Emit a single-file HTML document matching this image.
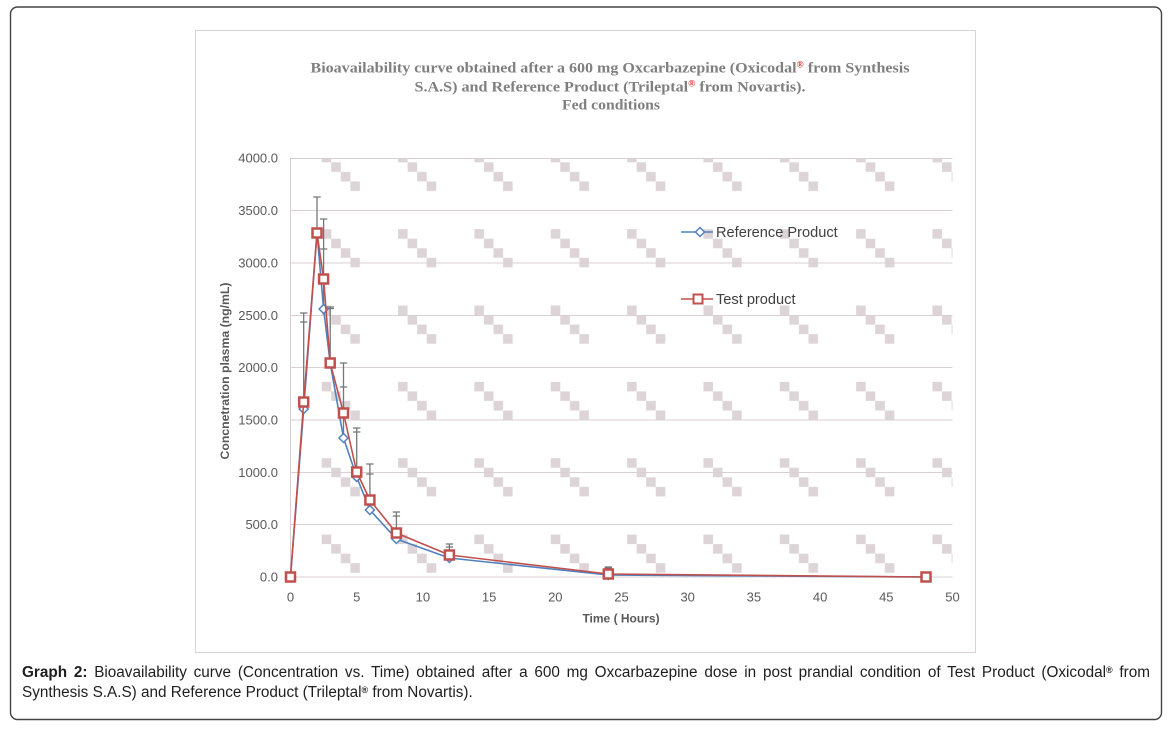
<!DOCTYPE html>
<html><head><meta charset="utf-8"><style>
html,body{margin:0;padding:0;background:#fff;}
body{width:1172px;height:730px;position:relative;overflow:hidden;}
svg{position:absolute;left:0;top:0;}
.cap{position:absolute;left:22px;width:1128px;font-family:"Liberation Sans",Arial,sans-serif;font-size:15.3px;line-height:20px;color:#1e1e1e;white-space:nowrap;}
.l1{top:662.5px;text-align:justify;text-align-last:justify;}
.l2{top:682.5px;}
sup{font-size:9px;font-weight:bold;vertical-align:top;position:relative;top:-3px;}
</style></head><body>
<svg width="1172" height="730" viewBox="0 0 1172 730" xmlns="http://www.w3.org/2000/svg">
<defs>
<pattern id="pt" patternUnits="userSpaceOnUse" x="321.7" y="152.8" width="76.35" height="76.35">
<rect x="0" y="0" width="9.55" height="9.55" fill="#ddd4d7"/>
<rect x="9.55" y="9.55" width="9.55" height="9.55" fill="#ddd4d7"/>
<rect x="19.1" y="19.1" width="9.55" height="9.55" fill="#ddd4d7"/>
<rect x="28.65" y="28.65" width="9.55" height="9.55" fill="#ddd4d7"/>
</pattern>
</defs>
<rect x="10.5" y="7" width="1151" height="712.5" rx="7" fill="none" stroke="#444" stroke-width="1.4"/>
<rect x="195.5" y="30.5" width="780" height="622" fill="#fff" stroke="#dad3d6" stroke-width="1"/>
<!-- title -->
<g font-family="'Liberation Serif','Times New Roman',serif" font-weight="bold" font-size="15" fill="#7f7f7f" text-anchor="middle">
<text x="610" y="72.5" textLength="599" lengthAdjust="spacingAndGlyphs">Bioavailability curve obtained after a 600 mg Oxcarbazepine (Oxicodal<tspan fill="#e03030" font-size="9" dy="-5">®</tspan><tspan dy="5"> from Synthesis</tspan></text>
<text x="610" y="91.5" textLength="391" lengthAdjust="spacingAndGlyphs">S.A.S) and Reference Product (Trileptal<tspan fill="#e03030" font-size="9" dy="-5">®</tspan><tspan dy="5"> from Novartis).</tspan></text>
<text x="611" y="109.5" textLength="98" lengthAdjust="spacingAndGlyphs">Fed conditions</text>
</g>
<!-- pattern -->
<rect x="290.5" y="158" width="662" height="419" fill="url(#pt)"/>
<!-- gridlines -->
<g stroke="#dad0d4" stroke-width="1">
<line x1="290" y1="158.5" x2="952.5" y2="158.5"/>
<line x1="290" y1="210.5" x2="952.5" y2="210.5"/>
<line x1="290" y1="263" x2="952.5" y2="263"/>
<line x1="290" y1="315.5" x2="952.5" y2="315.5"/>
<line x1="290" y1="367.5" x2="952.5" y2="367.5"/>
<line x1="290" y1="420" x2="952.5" y2="420"/>
<line x1="290" y1="472.5" x2="952.5" y2="472.5"/>
<line x1="290" y1="524.5" x2="952.5" y2="524.5"/>
<line x1="290" y1="577" x2="952.5" y2="577"/>
<line x1="290.5" y1="158" x2="290.5" y2="577"/>
</g>
<!-- y labels -->
<g font-family="'Liberation Sans',Arial,sans-serif" font-size="13" fill="#595959" text-anchor="end">
<text x="278" y="162.5">4000.0</text>
<text x="278" y="215">3500.0</text>
<text x="278" y="267.5">3000.0</text>
<text x="278" y="320">2500.0</text>
<text x="278" y="372">2000.0</text>
<text x="278" y="424.5">1500.0</text>
<text x="278" y="477">1000.0</text>
<text x="278" y="529">500.0</text>
<text x="278" y="581.5">0.0</text>
</g>
<!-- x labels -->
<g font-family="'Liberation Sans',Arial,sans-serif" font-size="13" fill="#595959" text-anchor="middle">
<text x="290.5" y="601.5">0</text>
<text x="356.7" y="601.5">5</text>
<text x="422.9" y="601.5">10</text>
<text x="489.1" y="601.5">15</text>
<text x="555.3" y="601.5">20</text>
<text x="621.5" y="601.5">25</text>
<text x="687.7" y="601.5">30</text>
<text x="753.9" y="601.5">35</text>
<text x="820.1" y="601.5">40</text>
<text x="886.3" y="601.5">45</text>
<text x="952.5" y="601.5">50</text>
</g>
<text x="621" y="622.5" font-family="'Liberation Sans',Arial,sans-serif" font-size="12" font-weight="bold" fill="#595959" text-anchor="middle">Time ( Hours)</text>
<text transform="translate(229,371) rotate(-90)" x="0" y="0" font-family="'Liberation Sans',Arial,sans-serif" font-size="12" font-weight="bold" fill="#595959" text-anchor="middle" textLength="177" lengthAdjust="spacingAndGlyphs">Concnetration plasma (ng/mL)</text>
<!-- error bars -->
<g stroke="#737878" stroke-width="1.3" fill="none">
<path d="M303.7 402 V313 M300 313 H307.4 M303.7 409 V322 M300 322 H307.4"/>
<path d="M317 233 V197 M313.3 197 H320.7"/>
<path d="M323.6 279 V219 M319.9 219 H327.3 M323.6 309 V249 M319.9 249 H327.3"/>
<path d="M330.2 363 V307 M326.5 307 H333.9 M326.5 308.5 H333.9"/>
<path d="M343.5 413 V363 M339.8 363 H347.2 M343.5 438 V387 M339.8 387 H347.2"/>
<path d="M356.7 472 V428 M353 428 H360.4 M356.7 477 V432 M353 432 H360.4"/>
<path d="M369.9 500 V464 M366.2 464 H373.6 M369.9 510 V474 M366.2 474 H373.6"/>
<path d="M396.4 533 V512 M392.7 512 H400.1 M396.4 539 V516 M392.7 516 H400.1"/>
<path d="M449.4 555 V544 M445.7 544 H453.1 M449.4 558 V547 M445.7 547 H453.1"/>
<path d="M608.3 574 V567 M604.6 567 H612 M604.6 568 H612"/>
</g>
<!-- blue series -->
<polyline fill="none" stroke="#4f81bd" stroke-width="1.6" stroke-linejoin="round" points="290.5,577 303.7,409 317,233 323.6,309 330.2,363 343.5,438 356.7,477 369.9,510 396.4,539 449.4,558 608.3,575 926,577"/>
<g fill="#fff" stroke="#4f81bd" stroke-width="1.5">
<path d="M290.5 572.5 l4.5 4.5 l-4.5 4.5 l-4.5 -4.5z"/>
<path d="M303.7 404.5 l4.5 4.5 l-4.5 4.5 l-4.5 -4.5z"/>
<path d="M317 228.5 l4.5 4.5 l-4.5 4.5 l-4.5 -4.5z"/>
<path d="M323.6 304.5 l4.5 4.5 l-4.5 4.5 l-4.5 -4.5z"/>
<path d="M330.2 358.5 l4.5 4.5 l-4.5 4.5 l-4.5 -4.5z"/>
<path d="M343.5 433.5 l4.5 4.5 l-4.5 4.5 l-4.5 -4.5z"/>
<path d="M356.7 472.5 l4.5 4.5 l-4.5 4.5 l-4.5 -4.5z"/>
<path d="M369.9 505.5 l4.5 4.5 l-4.5 4.5 l-4.5 -4.5z"/>
<path d="M396.4 534.5 l4.5 4.5 l-4.5 4.5 l-4.5 -4.5z"/>
<path d="M449.4 553.5 l4.5 4.5 l-4.5 4.5 l-4.5 -4.5z"/>
<path d="M608.3 570.5 l4.5 4.5 l-4.5 4.5 l-4.5 -4.5z"/>
<path d="M926 572.5 l4.5 4.5 l-4.5 4.5 l-4.5 -4.5z"/>
</g>
<!-- red series -->
<polyline fill="none" stroke="#c0504d" stroke-width="1.6" stroke-linejoin="round" points="290.5,577 303.7,402 317,233 323.6,279 330.2,363 343.5,413 356.7,472 369.9,500 396.4,533 449.4,555 608.3,574 926,577"/>
<g fill="#fff" stroke="#c0504d" stroke-width="2.5">
<rect x="286" y="572.5" width="9" height="9"/>
<rect x="299.2" y="397.5" width="9" height="9"/>
<rect x="312.5" y="228.5" width="9" height="9"/>
<rect x="319.1" y="274.5" width="9" height="9"/>
<rect x="325.7" y="358.5" width="9" height="9"/>
<rect x="339" y="408.5" width="9" height="9"/>
<rect x="352.2" y="467.5" width="9" height="9"/>
<rect x="365.4" y="495.5" width="9" height="9"/>
<rect x="391.9" y="528.5" width="9" height="9"/>
<rect x="444.9" y="550.5" width="9" height="9"/>
<rect x="603.8" y="569.5" width="9" height="9"/>
<rect x="921.5" y="572.5" width="9" height="9"/>
</g>
<!-- legend -->
<line x1="681" y1="232" x2="713" y2="232" stroke="#4f81bd" stroke-width="1.5"/>
<path d="M700 227.5 l4.5 4.5 l-4.5 4.5 l-4.5 -4.5z" fill="#fff" stroke="#4f81bd" stroke-width="1.5"/>
<text x="716" y="237" font-family="'Liberation Sans',Arial,sans-serif" font-size="14.6" fill="#404040">Reference Product</text>
<line x1="681" y1="299" x2="713" y2="299" stroke="#c0504d" stroke-width="1.5"/>
<rect x="693.5" y="294.5" width="9" height="9" fill="#fff" stroke="#c0504d" stroke-width="2"/>
<text x="716" y="304" font-family="'Liberation Sans',Arial,sans-serif" font-size="14.6" fill="#404040">Test product</text>
</svg>
<div class="cap l1"><b>Graph 2:</b> Bioavailability curve (Concentration vs. Time) obtained after a 600 mg Oxcarbazepine dose in post prandial condition of Test Product (Oxicodal<sup>®</sup> from</div>
<div class="cap l2">Synthesis S.A.S) and Reference Product (Trileptal<sup>®</sup> from Novartis).</div>
</body></html>
